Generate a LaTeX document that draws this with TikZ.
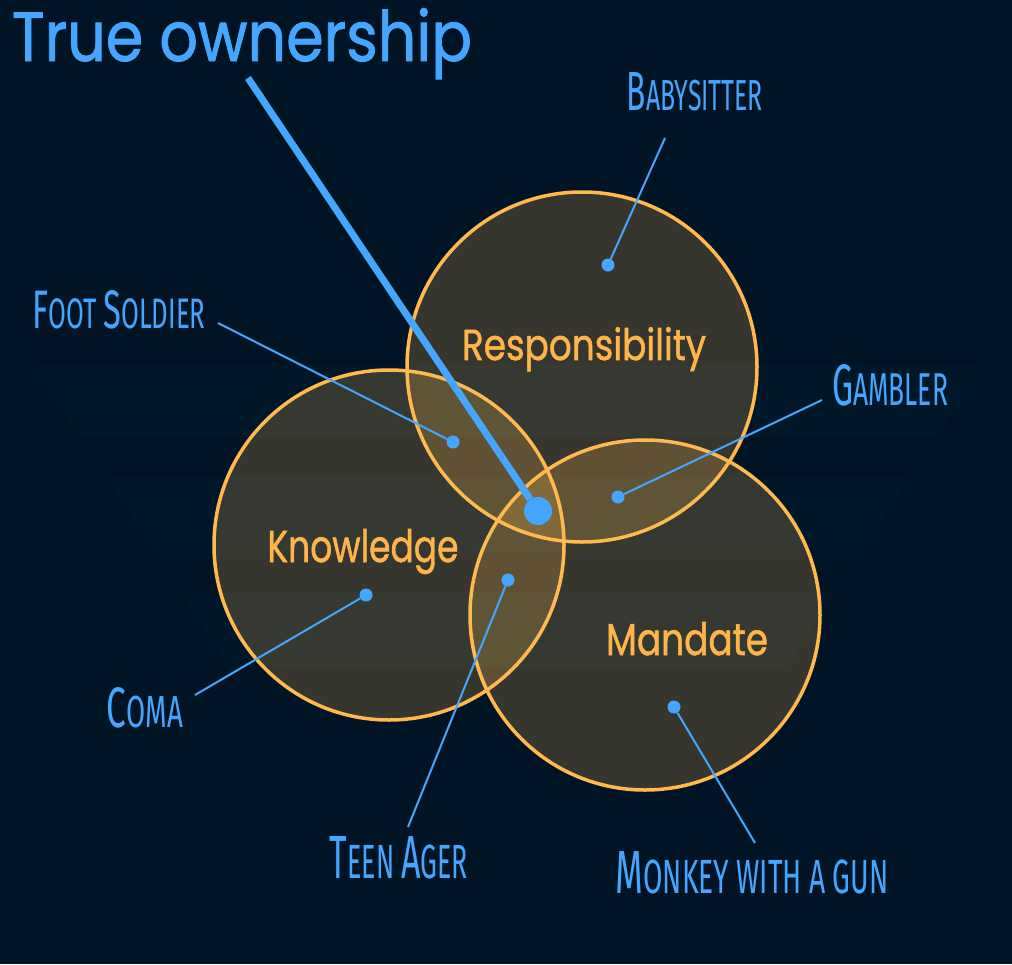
\documentclass[tikz,border=0pt]{standalone}
\usepackage{fontspec}
\usepackage{graphicx}
\newfontfamily\headfont{Poppins}[FakeBold=1.2]
\newfontfamily\tagfont{Fira Sans}
\definecolor{bgnavy}{RGB}{0,20,38}
\definecolor{bandnavy}{RGB}{0,23,42}
\definecolor{ringorange}{RGB}{255,185,77}
\definecolor{setorange}{RGB}{255,181,74}
\definecolor{tagblue}{RGB}{69,166,255}
% fake small caps for the role tags
\newcommand{\tagcap}[1]{{\fontsize{12.7}{13}\selectfont #1}}
\newcommand{\fitbox}[3]{\resizebox{#1pt}{#2pt}{#3}}

\begin{document}
\begin{tikzpicture}[x=1pt, y=-1pt,
    setdisc/.style={circle, minimum size=350pt, inner sep=0pt, fill=ringorange, fill opacity=0.21},
    ring/.style={draw=ringorange, line width=3.5pt},
    setname/.style={anchor=base, inner sep=0pt, text=setorange, font=\headfont},
    tag/.style={anchor=base, inner sep=0pt, text=tagblue, font=\tagfont\fontsize{10}{12}\selectfont},
    dot/.style={circle, fill=tagblue, minimum size=13pt, inner sep=0pt},
    leader/.style={draw=tagblue, line width=2pt}]

        % background and faint bands
        \fill[bgnavy] (0,0) rectangle (1012,964);
        \useasboundingbox (0,0) rectangle (1012,964);
        \foreach \t/\b in {365/437, 477/553, 592/667}
            \fill[bandnavy] ({33+0.65*(\t-365)},\t) -- ({983-0.65*(\t-365)},\t)
                -- ({983-0.65*(\b-365)},\b) -- ({33+0.65*(\b-365)},\b) -- cycle;

        % the three sets
        \node[setdisc] (resp) at (582,367) {};
        \node[setdisc] (know) at (389,545) {};
        \node[setdisc] (mand) at (645,615) {};
        \foreach \s in {resp, know, mand}
            \draw[ring] (\s.center) circle (175);

        \node[setname] (resptxt) at (584,360) {\fitbox{244}{33}{Responsibility}};
        \node[setname] (knowtxt) at (363,562) {\fitbox{191}{33}{Knowledge}};
        \node[setname] (mandtxt) at (687,655) {\fitbox{162}{33}{Mandate}};

        % title and its pointer
        \node[anchor=base, inner sep=0pt, text=tagblue, font=\headfont] (title) at (242,61)
            {\fitbox{460}{53}{True ownership}};
        \coordinate (titlefoot) at (248,78);
        \node[dot, minimum size=28pt] (core) at (538,511) {};
        \draw[tagblue, line width=7pt] (titlefoot) -- (core);

        % role tags
        \node[tag] (sitter)  at (695,110) {\fitbox{136}{38}{\tagcap{B}ABYSITTER}};
        \node[tag] (soldier) at (119,328) {\fitbox{173}{38}{\tagcap{F}OOT \tagcap{S}OLDIER}};
        \node[tag] (gambler) at (890,405) {\fitbox{116}{41}{\tagcap{G}AMBLER}};
        \node[tag] (coma)    at (145,727) {\fitbox{76}{40}{\tagcap{C}OMA}};
        \node[tag] (teen)    at (399,878) {\fitbox{138}{42}{\tagcap{T}EEN \tagcap{A}GER}};
        \node[tag] (monkey)  at (752,893) {\fitbox{273}{42}{\tagcap{M}ONKEY WITH A GUN}};

        \node[dot] (sitterdot)  at (608,265) {};
        \node[dot] (soldierdot) at (453,442) {};
        \node[dot] (gamblerdot) at (618,497) {};
        \node[dot] (comadot)    at (366,595) {};
        \node[dot] (teendot)    at (508,580) {};
        \node[dot] (monkeydot)  at (674,707) {};

        \coordinate (sitterend)  at (665,138);
        \coordinate (soldierend) at (218,323);
        \coordinate (gamblerend) at (822,400);
        \coordinate (comaend)    at (195,695);
        \coordinate (teenend)    at (408,827);
        \coordinate (monkeyend)  at (755,843);

        \draw[leader] (sitterend)  -- (sitterdot);
        \draw[leader] (soldierend) -- (soldierdot);
        \draw[leader] (gamblerend) -- (gamblerdot);
        \draw[leader] (comaend)    -- (comadot);
        \draw[leader] (teenend)    -- (teendot);
        \draw[leader] (monkeyend)  -- (monkeydot);
    \end{tikzpicture}
\end{document}
